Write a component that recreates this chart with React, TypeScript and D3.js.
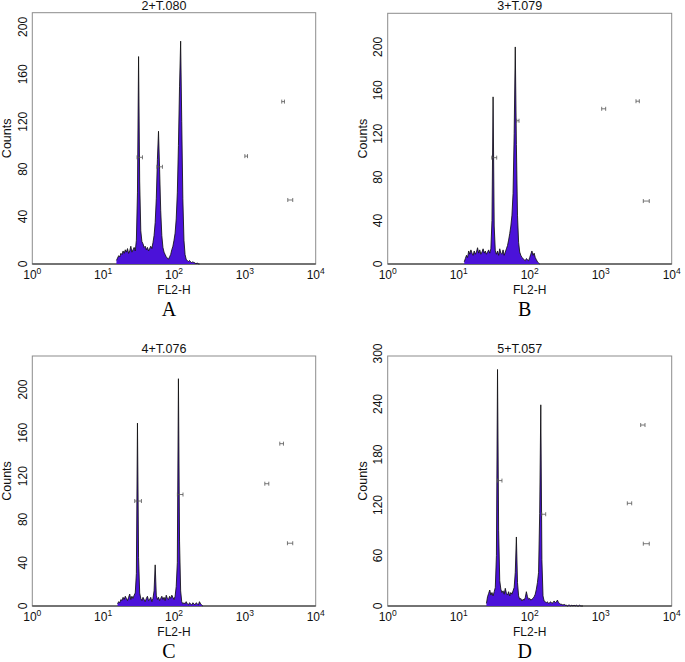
import React from 'react';
import * as d3 from 'd3';

// FL2-H DNA histograms, four samples
const panelTitles = ['2+T.080', '3+T.079', '4+T.076', '5+T.057'];
const panelLetters = ['A', 'B', 'C', 'D'];
const xTickExponents = [0, 1, 2, 3, 4];
const yMaxes = [212, 231, 231, 297];
const yTicks40 = [0, 40, 80, 120, 160, 200];
const yTicks60 = [0, 60, 120, 180, 240, 300];
const yTickSets = [yTicks40, yTicks40, yTicks40, yTicks60];

// 1024 log channels over 4 decades; each count below covers 4 channels
const CHANNELS_PER_DECADE = 256;
const BIN = 4;
const startChannels = [304, 276, 308, 356];

const countsA = [
  3, 5, 7, 6, 9, 8, 11, 9, 12, 10, 13, 9, 11, 15, 10, 12, 14, 11, 20, 60,
  175, 70, 28, 19, 17, 14, 15, 12, 14, 11, 13, 15, 13, 18, 24, 35, 55, 88, 112, 80,
  45, 24, 14, 10, 8, 6, 5, 4, 6, 8, 12, 15, 20, 26, 38, 60, 100, 150, 188, 120,
  55, 20, 8, 4, 3, 2, 3, 2, 1, 2, 1, 1, 0, 1, 0, 0,
];
const countsB = [
  2, 5, 8, 6, 12, 9, 13, 10, 8, 12, 9, 11, 15, 10, 13, 9, 11, 14, 10, 12,
  9, 11, 13, 10, 14, 40, 154, 35, 12, 9, 12, 8, 14, 10, 9, 13, 8, 11, 14, 17,
  22, 28, 35, 45, 65, 120, 200, 110, 45, 20, 11, 8, 6, 5, 4, 3, 5, 4, 3, 6,
  9, 12, 8, 10, 6, 4, 2, 1, 0,
];
const countsC = [
  2, 4, 3, 6, 5, 8, 6, 9, 7, 5, 8, 11, 6, 9, 7, 10, 12, 30, 169, 45,
  12, 7, 5, 8, 6, 4, 7, 9, 5, 6, 8, 4, 7, 14, 38, 10, 6, 8, 5, 7,
  9, 6, 8, 5, 10, 7, 6, 9, 7, 10, 8, 6, 9, 18, 40, 210, 60, 14, 4, 2,
  3, 2, 4, 2, 1, 3, 2, 1, 3, 2, 1, 3, 2, 1, 4, 2, 1, 0,
];
const countsD = [
  3, 11, 15, 19, 13, 16, 12, 17, 22, 60, 281, 90, 30, 20, 16, 18, 14, 21, 15, 13,
  17, 12, 16, 14, 18, 22, 40, 82, 28, 12, 8, 9, 6, 8, 7, 10, 17, 11, 8, 9,
  7, 8, 9, 11, 14, 20, 28, 40, 110, 239, 55, 12, 6, 5, 4, 5, 3, 4, 5, 3,
  4, 6, 4, 5, 7, 4, 3, 2, 2, 1, 2, 1, 1, 0, 1, 1, 0, 1, 0, 1,
  0, 1, 0, 0, 1, 0, 0, 0,
];
const countSeries = [countsA, countsB, countsC, countsD];

// range markers: [low FL2-H, high FL2-H, count level]
const markersA = [[30.1, 35.9, 90], [57.5, 68.7, 82], [1000, 1091, 91], [3319, 3622, 137], [4036, 4742, 54]];
const markersB = [[29.2, 34.3, 98], [65.6, 70.7, 132], [1033, 1175, 143], [3141, 3499, 150], [3981, 4831, 58]];
const markersC = [[27.9, 34.7, 97], [111.7, 134, 103], [1914, 2178, 113], [3112, 3508, 150], [3990, 4742, 58]];
const markersD = [[35.4, 40.7, 149], [147.6, 168, 109], [2371, 2733, 122], [3656, 4207, 215], [3981, 4831, 74]];
const markerSets = [markersA, markersB, markersC, markersD];

const W = 685;
const H = 662;
const boxes = [
  { x: 32.3, y: 12.7, w: 283.4, h: 251.3 },
  { x: 387.7, y: 13.3, w: 284, h: 250.7 },
  { x: 32.3, y: 356, w: 283.4, h: 250 },
  { x: 387.7, y: 356, w: 284, h: 250 },
];

const SANS = '"Liberation Sans", Arial, Helvetica, sans-serif';
const SERIF = '"Liberation Serif", "Times New Roman", serif';
const FILL = '#4b12d9';

function Panel({ idx }: { idx: number }) {
  const box = boxes[idx];
  const x = d3.scaleLog().domain([1, 1e4]).range([box.x, box.x + box.w]);
  const y = d3.scaleLinear().domain([0, yMaxes[idx]]).range([box.y + box.h, box.y]);
  const bottom = box.y + box.h;
  const cx = box.x + box.w / 2;

  const pts = countSeries[idx].map((c, k) => ({
    v: Math.pow(10, (startChannels[idx] + k * BIN) / CHANNELS_PER_DECADE),
    c,
  }));
  const area = d3.area<{ v: number; c: number }>()
    .x(d => x(d.v))
    .y0(y(0))
    .y1(d => y(d.c));
  const outline = d3.line<{ v: number; c: number }>()
    .x(d => x(d.v))
    .y(d => y(d.c));

  return (
    <g>
      <rect x={box.x} y={box.y} width={box.w} height={box.h} fill="#fff" stroke="#8c8c8c" strokeWidth={1} />
      <line x1={box.x} x2={box.x + box.w} y1={y(0)} y2={y(0)} stroke="#222" strokeWidth={1} />
      <path d={area(pts) || ''} fill={FILL} />
      <path d={outline(pts) || ''} fill="none" stroke="#111" strokeWidth={0.85} strokeLinejoin="round" />

      {markerSets[idx].map(([lo, hi, c], k) => {
        const x1 = x(lo);
        const x2 = x(hi);
        const yy = y(c);
        return (
          <g key={k} stroke="#555" strokeWidth={0.8}>
            <line x1={x1} x2={x2} y1={yy} y2={yy} />
            <line x1={x1} x2={x1} y1={yy - 2} y2={yy + 2} />
            <line x1={x2} x2={x2} y1={yy - 2} y2={yy + 2} />
          </g>
        );
      })}

      <text x={cx - 10} y={box.y - 3} textAnchor="middle" fontFamily={SANS} fontSize={12.5} fill="#111">
        {panelTitles[idx]}
      </text>

      {yTickSets[idx].map(t => (
        <text
          key={t}
          transform={`translate(${box.x - 9.3},${y(t)}) rotate(-90)`}
          textAnchor="middle"
          dominantBaseline="central"
          fontFamily={SANS}
          fontSize={12}
          fill="#111"
        >
          {t}
        </text>
      ))}
      <text
        transform={`translate(${box.x - 25},${box.y + box.h / 2}) rotate(-90)`}
        textAnchor="middle"
        dominantBaseline="central"
        fontFamily={SANS}
        fontSize={12.5}
        fill="#111"
      >
        Counts
      </text>

      {xTickExponents.map(e => (
        <text key={e} x={x(Math.pow(10, e))} y={bottom + 15} textAnchor="middle" fontFamily={SANS} fontSize={12} fill="#111">
          10<tspan fontSize={8.5} dy={-5}>{e}</tspan>
        </text>
      ))}
      <text x={cx} y={bottom + 29.5} textAnchor="middle" fontFamily={SANS} fontSize={12} fill="#111">
        FL2-H
      </text>
      <text x={cx - 5} y={bottom + 52} textAnchor="middle" fontFamily={SERIF} fontSize={20} fill="#000">
        {panelLetters[idx]}
      </text>
    </g>
  );
}

export default function App() {
  return (
    <svg
      width={W}
      height={H}
      viewBox={`0 0 ${W} ${H}`}
      style={{ position: 'absolute', left: 0, top: 0, background: '#fff' }}
    >
      <rect width={W} height={H} fill="#fff" />
      {[0, 1, 2, 3].map(i => (
        <Panel key={i} idx={i} />
      ))}
    </svg>
  );
}
